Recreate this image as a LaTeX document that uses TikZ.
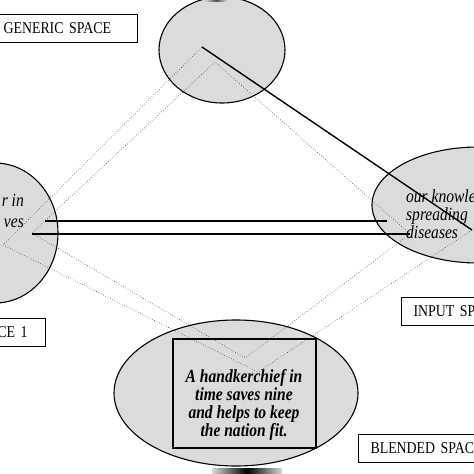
\documentclass[tikz,border=0pt]{standalone}
\usepackage{fontspec}
\setmainfont{Liberation Serif}
\newfontfamily\narrowfont[FakeStretch=0.84]{Liberation Serif}
\usetikzlibrary{shapes.geometric}

\begin{document}
\begin{tikzpicture}[x=1pt,y=-1pt]
        \tikzstyle{every node}=[inner sep=0pt]
        \tikzstyle{space}=[ellipse,draw,line width=1.1pt,fill=gray!28]
        \tikzstyle{tag}=[draw,line width=1.1pt,minimum height=28pt,inner xsep=12pt,font=\narrowfont\fontsize{16.5}{18}\selectfont]
        \tikzstyle{thought}=[font=\narrowfont\fontsize{18.5}{18}\selectfont\itshape]
        \tikzstyle{map}=[dotted,gray!50!black,line width=0.6pt]
        \tikzstyle{link}=[line width=1.4pt]
        \useasboundingbox (0,0) rectangle (474,474);
        % mental spaces
        \node[space,minimum width=126pt,minimum height=106pt] (generic) at (222,50) {};
        \node[space,minimum width=126pt,minimum height=140pt] (input1) at (-5,233) {};
        \node[space,minimum width=212pt,minimum height=116pt] (input2) at (478,205) {};
        \node[space,minimum width=244pt,minimum height=146pt] (blend) at (236,393) {};
        \shade[left color=gray!30,right color=gray!30,middle color=gray!60!black] (205,-2) rectangle (227,1.5);
        \shade[left color=gray!30,right color=gray!30,middle color=black] (212,468) rectangle (282,476);
        \node[draw,line width=1.1pt,minimum width=143pt,minimum height=109pt] (proverb) at (244.5,393.5) {};
        % labels
        \node[tag,anchor=north west,text width=126pt,inner xsep=8pt,align=left] (genlabel) at (-5,14) {GENERIC SPACE};
        \node[tag,anchor=north east,text width=40pt,inner xsep=18pt,align=right] (in1label) at (46,318) {CE 1};
        \node[tag,anchor=north west,text width=90pt,align=left] (in2label) at (401,297) {INPUT SP};
        \node[tag,anchor=north west,text width=120pt,align=left] (blendlabel) at (358,434) {BLENDED SPAC};
        % cross-space mappings
        \coordinate (g1) at (202,47);  \coordinate (g2) at (215,62);
        \coordinate (l1) at (3,245);   \coordinate (l2) at (32,233);
        \coordinate (b1) at (258,372); \coordinate (b2) at (245,358);
        \coordinate (r1) at (472,230); \coordinate (r2) at (410,234);
        \coordinate (u1) at (45,221);  \coordinate (u2) at (387,221);
        \draw[map] (g1) -- (l1) -- (b1) -- (r1);
        \draw[map] (g2) -- (l2) -- (b2) -- (r2) -- cycle;
        \draw[link] (g1) -- (r1);
        \draw[link] (u1) -- (u2);
        \draw[link] (l2 |- r2) -- (r2);
        % contents
        \node[thought,anchor=east,align=right,font=\narrowfont\fontsize{18.5}{21}\selectfont\itshape] (sickness) at (24,211) {r in\\ves};
        \node[thought,anchor=west,align=left] (knowledge) at (406,214) {our knowle\\spreading\\diseases};
        \node[font=\narrowfont\fontsize{18.5}{17.7}\selectfont\bfseries\itshape,align=center] (saying) at (244,405) {A handkerchief in\\time saves nine\\and helps to keep\\the nation fit.};
    \end{tikzpicture}
\end{document}
